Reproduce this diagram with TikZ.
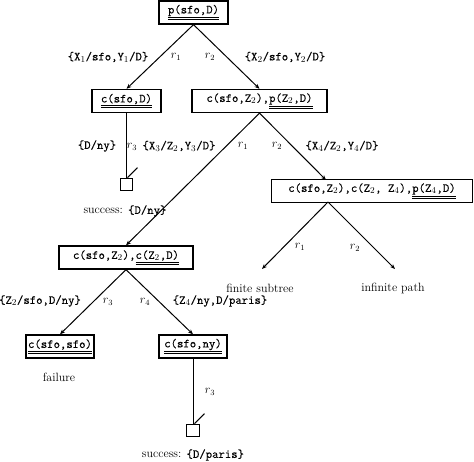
\documentclass[tikz,border=0pt]{standalone}
\usepackage{fontspec}
\setmonofont{Latin Modern Mono}[FakeBold=0.4]
\usetikzlibrary{arrows.meta,calc}
\newcommand{\uu}[1]{\underline{\underline{#1}}}
\tikzset{
  term/.style={draw, line width=1.3pt, minimum height=23pt, inner sep=2pt, font=\fontsize{12.4}{14}\ttfamily, anchor=center},
  lab/.style={font=\fontsize{12.4}{14}\ttfamily, inner sep=0pt},
  rl/.style={font=\fontsize{12}{14}\selectfont, inner sep=0pt},
  txt/.style={font=\fontsize{12}{14}\selectfont, inner sep=0pt},
  edge/.style={line width=1pt, -{Stealth[length=5pt,width=4pt]}},
  plain/.style={line width=1pt},
  sq/.style={draw, line width=1.1pt, minimum size=12.5pt, inner sep=0pt},
}
\begin{document}
\begin{tikzpicture}[x=1pt,y=-1pt]
\useasboundingbox (0,0) rectangle (474,462);
\node[term, minimum width=69pt] (top) at (193.5,12.5) {\uu{p(sfo,D)}};
\node[term, minimum width=69pt] (n1) at (126.5,101) {\uu{c(sfo,D)}};
\node[term, minimum width=135pt] (n2) at (259.5,101) {c(sfo,Z$_2$),\uu{p(Z$_2$,D)}};
\node[term, minimum width=201pt] (n3) at (372,191) {c(sfo,Z$_2$),c(Z$_2$, Z$_4$),\uu{p(Z$_4$,D)}};
\node[term, minimum width=134pt] (n4) at (126,257.5) {c(sfo,Z$_2$),\uu{c(Z$_2$,D)}};
\node[term, minimum width=68pt] (n5) at (60,346.5) {\uu{c(sfo,sfo)}};
\node[term, minimum width=68pt] (n6) at (193,346.5) {\uu{c(sfo,ny)}};
\node[sq] (sq1) at (126.5,184.5) {};
\node[sq] (sq2) at (193,430.5) {};
\coordinate (c3) at (326,180);
\coordinate (s3) at (328,202);
\coordinate (ft) at (262,269);
\coordinate (ip) at (395,269);
% edges
\draw[edge] (top.south) -- (n1.north);
\draw[edge] (top.south) -- (n2.north);
\draw[plain] (n1.south) -- (sq1.north);
\draw[plain] ($(sq1.north)+(1,0)$) -- ++(10,-10);
\draw[edge] (n2.south) -- (n4.north);
\draw[edge] (n2.south) -- (c3);
\draw[edge] (s3) -- (ft);
\draw[edge] (s3) -- (ip);
\draw[edge] (n4.south) -- (n5.north);
\draw[edge] (n4.south) -- (n6.north);
\draw[plain] (n6.south) -- (sq2.north);
\draw[plain] ($(sq2.north)+(1.5,0)$) -- ++(10,-10);
% labels
\node[lab] (l1) at (108,57) {\{X$_1$/sfo,Y$_1$/D\}};
\node[rl] (r1a) at (176,57) {$r_1$};
\node[rl] (r2a) at (210,57) {$r_2$};
\node[lab] (l2) at (285,57) {\{X$_2$/sfo,Y$_2$/D\}};
\node[lab] (l3) at (97,146) {\{D/ny\}};
\node[rl] (r3a) at (132,147) {$r_3$};
\node[lab] (l4) at (179,146) {\{X$_3$/Z$_2$,Y$_3$/D\}};
\node[rl] (r1b) at (243,146) {$r_1$};
\node[rl] (r2b) at (277,146) {$r_2$};
\node[lab] (l5) at (342,146) {\{X$_4$/Z$_2$,Y$_4$/D\}};
\node[txt] (s1) at (125,211) {success: {\ttfamily\fontsize{12.4}{14}\selectfont\{D/ny\}}};
\node[rl] (r1c) at (300,247) {$r_1$};
\node[rl] (r2c) at (355,248) {$r_2$};
\node[txt] (fst) at (260,288) {finite subtree};
\node[txt] (ipt) at (393,288) {infinite path};
\node[lab] (l6) at (40,301) {\{Z$_2$/sfo,D/ny\}};
\node[rl] (r3b) at (108,302) {$r_3$};
\node[rl] (r4b) at (145,302) {$r_4$};
\node[lab] (l7) at (220,301) {\{Z$_4$/ny,D/paris\}};
\node[txt] (fail) at (59,377) {failure};
\node[rl] (r3c) at (210,392) {$r_3$};
\node[txt] (s2) at (193,455) {success: {\ttfamily\fontsize{12.4}{14}\selectfont\{D/paris\}}};
\end{tikzpicture}
\end{document}
